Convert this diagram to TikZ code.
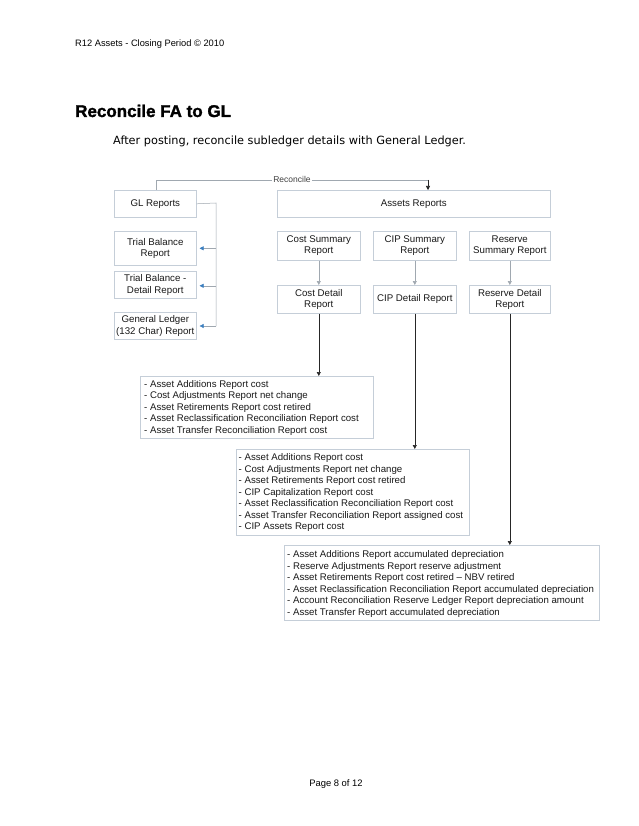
\documentclass[tikz,border=0pt]{standalone}
\usepackage{fontspec}
\setmainfont{Liberation Sans}
\newfontfamily\subfont{DejaVu Sans}
\newfontfamily\titlefont[BoldFeatures={FakeBold=1.6}]{Liberation Sans}
\usetikzlibrary{arrows.meta}
\definecolor{boxline}{HTML}{C5CED8}
\definecolor{conn}{HTML}{A0A8B0}
\definecolor{tipblue}{HTML}{3C7FC0}
\tikzset{
  box/.style={draw=boxline, line width=0.6pt, anchor=north west, inner sep=1pt, align=center, font=\fontsize{9.7}{11.5}\selectfont, text=black!90},
  listbox/.style={draw=boxline, line width=0.6pt, anchor=north west, inner sep=0pt},
  listtext/.style={anchor=west, inner sep=0pt, align=left, font=\fontsize{9.65}{11.5}\selectfont, text=black!90},
  conline/.style={draw=conn, line width=0.5pt},
  darrow/.style={draw=black!85, line width=0.6pt, -{Triangle[width=4pt,length=4pt]}},
  barrow/.style={draw=conn, line width=0.5pt, -{Triangle[width=4pt,length=4pt,color=tipblue]}},
}
\begin{document}
\begin{tikzpicture}[x=1pt,y=-1pt]
\useasboundingbox[fill=white] (0,0) rectangle (638,826);
% page texts
\node[anchor=base west, inner sep=0pt, font=\fontsize{9.3}{10}\selectfont] (hdr) at (75,47) {R12 Assets - Closing Period \textcopyright{} 2010};
\node[anchor=base west, inner sep=0pt, font=\titlefont\fontsize{17}{20}\selectfont\bfseries] (title) at (75,117) {Reconcile FA to GL};
\node[anchor=base west, inner sep=0pt, font=\subfont\fontsize{11.3}{13}\selectfont] (sub) at (113,145) {After posting, reconcile subledger details with General Ledger.};
\node[anchor=base, inner sep=0pt, font=\fontsize{9.4}{10}\selectfont] (foot) at (336,786) {Page 8 of 12};

% top boxes
\node[box, minimum width=82pt, minimum height=27pt] (gl) at (114,190) {GL Reports};
\node[box, minimum width=273pt, minimum height=27pt] (assets) at (277,190) {Assets Reports};

% GL side
\node[box, minimum width=82pt, minimum height=34pt] (tb) at (114,231) {Trial Balance\\Report};
\node[box, minimum width=82pt, minimum height=27pt] (tbd) at (114,271) {Trial Balance -\\Detail Report};
\node[box, minimum width=82pt, minimum height=27pt] (glr) at (114,312) {General Ledger\\(132 Char) Report};

% summary row
\node[box, minimum width=83pt, minimum height=29pt] (cs) at (277,231) {Cost Summary\\Report};
\node[box, minimum width=83pt, minimum height=29pt] (cips) at (373,231) {CIP Summary\\Report};
\node[box, minimum width=81pt, minimum height=29pt] (rs) at (469,231) {Reserve\\Summary Report};

% detail row
\node[box, minimum width=83pt, minimum height=28pt] (cd) at (277,285) {Cost Detail\\Report};
\node[box, minimum width=83pt, minimum height=28pt] (cipd) at (373,285) {CIP Detail Report};
\node[box, minimum width=81pt, minimum height=28pt] (rd) at (469,285) {Reserve Detail\\Report};

% list boxes
\node[listbox, minimum width=233pt, minimum height=62pt] (l1) at (140,376) {};
\node[listtext] (l1t) at ([xshift=4pt,yshift=-0.5pt]l1.west) {- Asset Additions Report cost\\- Cost Adjustments Report net change\\- Asset Retirements Report cost retired\\- Asset Reclassification Reconciliation Report cost\\- Asset Transfer Reconciliation Report cost};
\node[listbox, minimum width=233pt, minimum height=86pt] (l2) at (236,449) {};
\node[listtext] (l2t) at ([xshift=2.5pt,yshift=-0.5pt]l2.west) {- Asset Additions Report cost\\- Cost Adjustments Report net change\\- Asset Retirements Report cost retired\\- CIP Capitalization Report cost\\- Asset Reclassification Reconciliation Report cost\\- Asset Transfer Reconciliation Report assigned cost\\- CIP Assets Report cost};
\node[listbox, minimum width=315pt, minimum height=75pt] (l3) at (284,545) {};
\node[listtext] (l3t) at ([xshift=3pt,yshift=-1pt]l3.west) {- Asset Additions Report accumulated depreciation\\- Reserve Adjustments Report reserve adjustment\\- Asset Retirements Report cost retired -- NBV retired\\- Asset Reclassification Reconciliation Report accumulated depreciation\\- Account Reconciliation Reserve Ledger Report depreciation amount\\- Asset Transfer Report accumulated depreciation};

% reconcile connector
\coordinate (rc1) at (156,180);
\coordinate (rc2) at (428,180);
\draw[conline] (gl.north -| rc1) -- (rc1) -- (rc2);
\draw[darrow] (rc2) -- (assets.north -| rc2);
\node[fill=white, inner sep=1pt, font=\fontsize{8.5}{9}\selectfont, text=black!75] (rlab) at (292,179) {Reconcile};

% GL bracket
\coordinate (gb) at (216,203);
\coordinate (gbend) at (216,326);
\draw[conline] (gl.east) -- (gb) -- (gbend);
\draw[barrow] (tb.east -| gb) -- ([xshift=3pt]tb.east);
\draw[barrow] ([yshift=-1pt]tbd.east -| gb) -- ([xshift=3pt,yshift=-1pt]tbd.east);
\draw[barrow] (gbend) -- ([xshift=3pt]glr.east |- gbend);

% summary -> detail
\draw[darrow, draw=conn] (cs) -- (cd);
\draw[darrow, draw=conn] (cips) -- (cipd);
\draw[darrow, draw=conn] (rs) -- (rd);

% detail -> lists
\draw[darrow] (cd.south) -- (l1.north -| cd.south);
\draw[darrow] (cipd.south) -- (l2.north -| cipd.south);
\draw[darrow] (rd.south) -- (l3.north -| rd.south);
\end{tikzpicture}
\end{document}
